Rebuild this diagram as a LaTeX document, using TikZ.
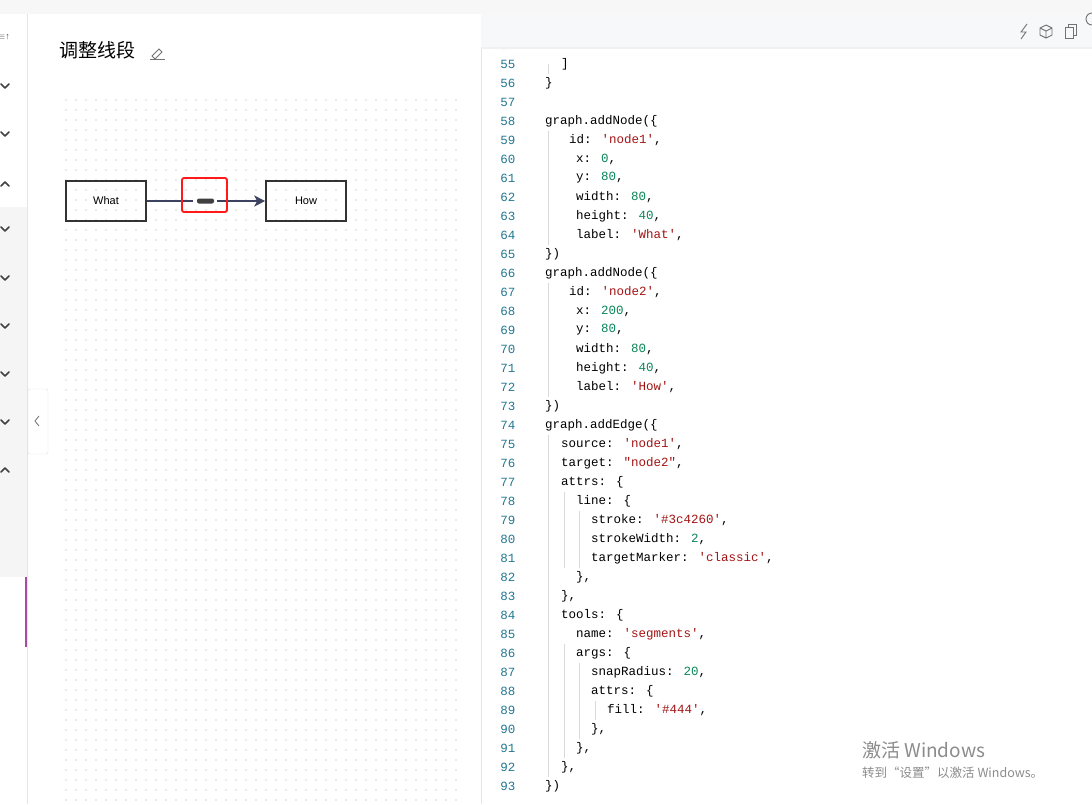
\documentclass[tikz,border=0pt]{standalone}
\usepackage{fontspec}
\usetikzlibrary{arrows.meta}
\setmainfont{Liberation Sans}
\newfontfamily\codefont{Liberation Mono}
\newfontfamily\cjk{Noto Sans CJK SC}
\definecolor{lnum}{HTML}{237893}
\definecolor{strc}{HTML}{A31515}
\definecolor{numc}{HTML}{098658}
\definecolor{edgec}{HTML}{3C4260}
\definecolor{hdr}{HTML}{F7F8FA}
\newcommand{\ST}[1]{\textcolor{strc}{#1}}
\newcommand{\NM}[1]{\textcolor{numc}{#1}}
\begin{document}
\begin{tikzpicture}[x=1pt,y=-1pt,
  box/.style={draw=black!80,line width=1.6pt,minimum width=80pt,minimum height=40pt,inner sep=0pt,font=\fontsize{11}{11}\selectfont},
  ln/.style={anchor=east,text=lnum,font=\codefont\fontsize{12.5}{12.5}\selectfont},
  cd/.style={anchor=west,inner sep=0pt,font=\codefont\fontsize{12.5}{12.5}\selectfont},
  chev/.style={draw=black!75,line width=1.5pt,line cap=round,line join=round},
  guide/.style={draw=black!15,line width=0.6pt},
  icon/.style={draw=black!55,line width=0.9pt}]
\useasboundingbox (0,0) rectangle (1092,804);
\fill[white] (0,0) rectangle (1092,804);
% top strip
\fill[black!3] (0,0) rectangle (1092,14);
% left sidebar
\draw[black!10] (27,14) -- (27,804);
\fill[black!4] (0,207) rectangle (27,577);
\draw[violet!70,line width=1.5pt] (26,577) -- (26,647);
\node[inner sep=0pt,text=black!70,font=\fontsize{9}{9}\selectfont] (s0) at (4,37) {$\equiv$\textuparrow};
\foreach \yy in {86,134,229,278,326,374,422}{\draw[chev] (1,\yy-2) -- (5,\yy+2) -- (9,\yy-2);}
\foreach \yy in {184,470}{\draw[chev] (1,\yy+2) -- (5,\yy-2) -- (9,\yy+2);}
% collapse button
\draw[black!12,fill=white,rounded corners=2pt] (28,389) rectangle (48,454);
\draw[black!50,line width=0.9pt] (39,416) -- (35,421) -- (39,426);
% title
\node[anchor=west,font=\cjk\fontsize{19}{19}\selectfont] (title) at (56,50) {调整线段};
\draw[black!55,line width=0.8pt] (152,56) -- (159,49) -- (162,52) -- (155,59) -- cycle;
\draw[black!55] (150,59) -- (165,59);
% dot grid
\foreach \i in {0,...,39}{\foreach \j in {0,...,70}{\fill[black!35] (66+10*\i,100+10*\j) circle (0.55pt);}}
% diagram
\node[box] (what) at (106,201) {What};
\node[box] (how) at (306,201) {How};
\draw[edgec,line width=1.6pt,-{Stealth[length=11pt,width=11pt,inset=3pt]}] (what) -- (how);
\node[draw=red!90,line width=1.8pt,rounded corners=2pt,minimum width=45pt,minimum height=34pt] (sel) at (204.5,195) {};
\fill[white] (193,197) rectangle (217,205);
\fill[black!75,rounded corners=2pt] (197,198.5) rectangle (214,203.5);
% right panel
\draw[black!10] (481,14) -- (481,804);
% guides
\draw[guide] (548,64) -- (548,74);
\draw[guide] (548,131) -- (548,245) (548,283) -- (548,397);
\draw[guide] (548,435) -- (548,777) (564,492) -- (564,568) (564,644) -- (564,758) (579,511) -- (579,568) (579,663) -- (579,739) (595,701) -- (595,720);
% line numbers
\foreach \n [count=\k from 0] in {55,...,93}{\node[ln] at (519,64+19*\k) {\n};}
\node[ln] at (519,45) {54};
\fill[hdr] (481,14) rectangle (1092,47);\fill[black!6] (481,47) rectangle (1092,49);
\draw[icon] (1027,24) -- (1021,32) -- (1026,32) -- (1021,39);
\draw[icon] (1046,25) -- (1052,28) -- (1052,35) -- (1046,38) -- (1040,35) -- (1040,28) -- cycle (1040,28) -- (1046,31) -- (1052,28) (1046,31) -- (1046,38);
\draw[icon] (1065,27) rectangle (1073,38) (1068,27) -- (1068,24) -- (1076,24) -- (1076,35) -- (1073,35);
\draw[icon] (1092,25) arc (90:270:6);
% code
\node[cd] (c55) at (561,64) {]};
\node[cd] at (545,83) {\}};
\node[cd] at (545,121) {graph.addNode(\{};
\node[cd] at (569,140) {id: \ST{'node1'},};
\node[cd] at (576,159) {x: \NM{0},};
\node[cd] at (576,178) {y: \NM{80},};
\node[cd] at (576,197) {width: \NM{80},};
\node[cd] at (576,216) {height: \NM{40},};
\node[cd] at (576,235) {label: \ST{'What'},};
\node[cd] at (545,254) {\})};
\node[cd] at (545,273) {graph.addNode(\{};
\node[cd] at (569,292) {id: \ST{'node2'},};
\node[cd] at (576,311) {x: \NM{200},};
\node[cd] at (576,330) {y: \NM{80},};
\node[cd] at (576,349) {width: \NM{80},};
\node[cd] at (576,368) {height: \NM{40},};
\node[cd] at (576,387) {label: \ST{'How'},};
\node[cd] at (545,406) {\})};
\node[cd] at (545,425) {graph.addEdge(\{};
\node[cd] at (561,444) {source: \ST{'node1'},};
\node[cd] at (561,463) {target: \ST{"node2"},};
\node[cd] at (561,482) {attrs: \{};
\node[cd] at (576,501) {line: \{};
\node[cd] at (591,520) {stroke: \ST{'\#3c4260'},};
\node[cd] at (591,539) {strokeWidth: \NM{2},};
\node[cd] at (591,558) {targetMarker: \ST{'classic'},};
\node[cd] at (576,577) {\},};
\node[cd] at (561,596) {\},};
\node[cd] at (561,615) {tools: \{};
\node[cd] at (576,634) {name: \ST{'segments'},};
\node[cd] at (576,653) {args: \{};
\node[cd] at (591,672) {snapRadius: \NM{20},};
\node[cd] at (591,691) {attrs: \{};
\node[cd] at (607,710) {fill: \ST{'\#444'},};
\node[cd] at (591,729) {\},};
\node[cd] at (576,748) {\},};
\node[cd] at (561,767) {\},};
\node[cd] at (545,786) {\})};
% watermark
\node[anchor=west,inner sep=0pt,text=black!45,font=\cjk\fontsize{19}{19}\selectfont] (wm1) at (862,750) {激活 Windows};
\node[anchor=west,inner sep=0pt,text=black!45,font=\cjk\fontsize{12.5}{12.5}\selectfont] (wm2) at (862,773) {转到“设置”以激活 Windows。};
\end{tikzpicture}
\end{document}
